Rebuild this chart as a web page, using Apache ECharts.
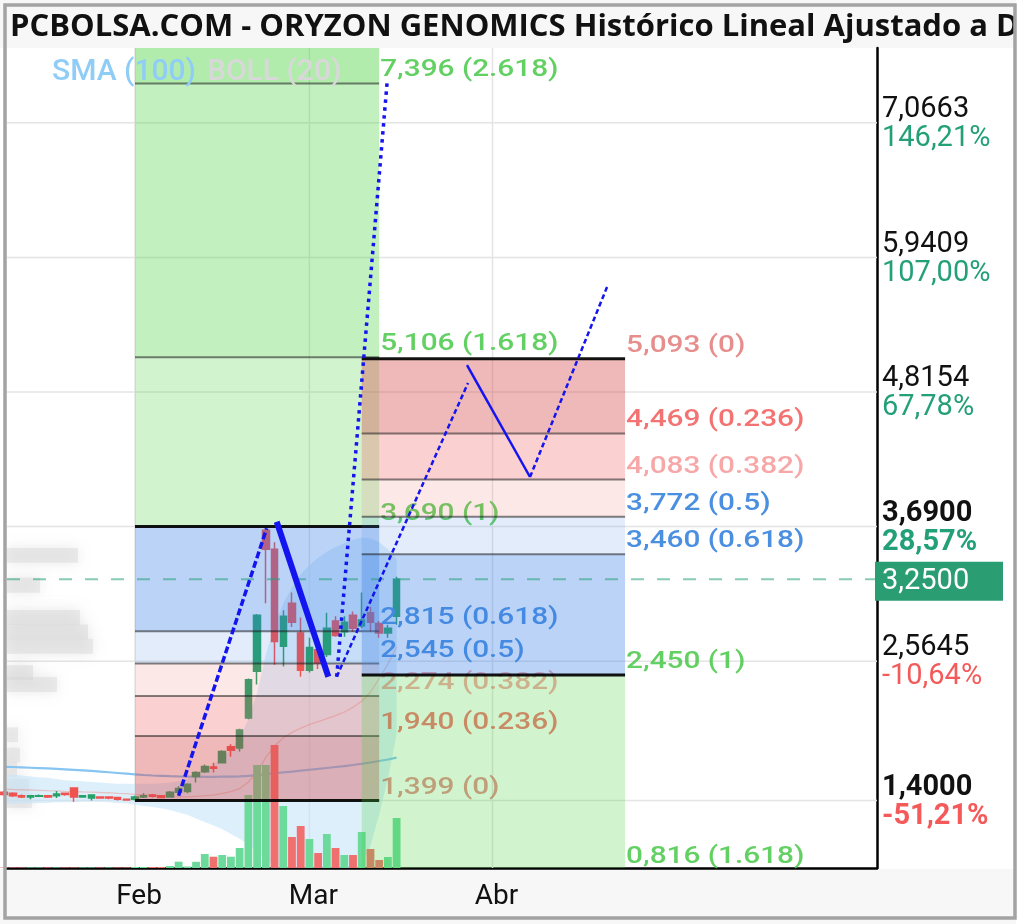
<!DOCTYPE html>
<html>
<head>
<meta charset="utf-8">
<script src="https://cdn.jsdelivr.net/npm/echarts@6.0.0/dist/echarts.min.js"></script>
<style>
html,body{margin:0;padding:0;background:#fff;}
#chart{width:1020px;height:924px;}
</style>
</head>
<body>
<div id="chart"></div>
<script>
// ---------------- DATA ----------------
const title = 'PCBOLSA.COM - ORYZON GENOMICS Histórico Lineal Ajustado a Dividendos';
const dates = [
 '2025-01-13','2025-01-14','2025-01-15','2025-01-16','2025-01-17',
 '2025-01-20','2025-01-21','2025-01-22','2025-01-23','2025-01-24',
 '2025-01-27','2025-01-28','2025-01-29','2025-01-30','2025-01-31',
 '2025-02-03','2025-02-04','2025-02-05','2025-02-06','2025-02-07',
 '2025-02-10','2025-02-11','2025-02-12','2025-02-13','2025-02-14',
 '2025-02-17','2025-02-18','2025-02-19','2025-02-20','2025-02-21',
 '2025-02-24','2025-02-25','2025-02-26','2025-02-27','2025-02-28',
 '2025-03-03','2025-03-04','2025-03-05','2025-03-06','2025-03-07',
 '2025-03-10','2025-03-11','2025-03-12','2025-03-13','2025-03-14',
 '2025-03-17'];
const opens = [1.47,1.46,1.44,1.43,1.435, 1.44,1.44,1.46,1.505,1.43, 1.42,1.43,1.43,1.425,1.41,
 1.41,1.43,1.445,1.44,1.43, 1.47,1.475,1.60,1.64,1.68, 1.715,1.85,1.84,2.09,2.48,
 3.66,3.50,2.69,3.05,2.80, 2.49,2.66,2.62,2.90,2.81, 2.95,2.86,2.97,2.88,2.80, 2.94];
const closes = [1.45,1.44,1.43,1.44,1.44, 1.43,1.455,1.45,1.43,1.44, 1.445,1.42,1.42,1.41,1.405,
 1.43,1.44,1.435,1.425,1.47, 1.50,1.535,1.635,1.685,1.67, 1.81,1.82,1.99,2.41,2.95,
 3.50,2.73,2.94,2.89,2.49, 2.68,2.55,2.84,2.78,2.89, 2.84,2.91,2.89,2.80,2.84, 3.25];
const lows = [1.44,1.43,1.42,1.41,1.43, 1.42,1.42,1.44,1.39,1.425, 1.40,1.415,1.41,1.40,1.40,
 1.399,1.42,1.425,1.42,1.425, 1.46,1.46,1.55,1.63,1.635, 1.71,1.765,1.81,2.08,2.37,
 3.05,2.535,2.52,2.85,2.435, 2.47,2.50,2.60,2.77,2.77, 2.81,2.84,2.81,2.76,2.76, 2.87];
const highs = [1.48,1.47,1.45,1.445,1.45, 1.445,1.48,1.465,1.51,1.445, 1.45,1.435,1.435,1.43,1.415,
 1.44,1.46,1.455,1.445,1.48, 1.52,1.545,1.645,1.70,1.715, 1.82,1.87,2.00,2.42,2.96,
 3.69,3.56,2.99,3.14,2.93, 2.76,2.70,2.97,2.94,2.94, 2.98,3.14,3.02,2.90,2.87, 3.27];
const volumes = [0.05,0.05,0.05,0.05,0.05, 0.05,0.05,0.05,0.05,0.05, 0.05,0.05,0.05,0.05,0.05,
 0.1,0.1,0.1,0.1,0.2, 0.63,0.15,0.62,1.4,1.13, 1.3,1.13,2.0,7.3,10.3,
 10.3,12.3,6.2,3.1,4.2, 2.9,1.5,3.4,2.0,1.3, 1.3,3.6,1.9,0.8,1.1, 5.0];
const sma100 = [1.682,1.680,1.677,1.674,1.671, 1.668,1.664,1.660,1.656,1.652, 1.647,1.642,1.636,1.630,1.624,
 1.618,1.613,1.609,1.606,1.603, 1.601,1.600,1.599,1.598,1.598, 1.599,1.600,1.602,1.606,1.612,
 1.620,1.628,1.635,1.642,1.650, 1.657,1.664,1.672,1.680,1.688, 1.697,1.707,1.718,1.730,1.743, 1.758];
const bollUpper = [1.62,1.615,1.61,1.60,1.595, 1.59,1.58,1.57,1.565,1.56, 1.555,1.55,1.545,1.54,1.54,
 1.54,1.54,1.54,1.545,1.55, 1.56,1.58,1.62,1.66,1.70, 1.76,1.83,1.92,2.08,2.30,
 2.62,2.86,3.05,3.18,3.29, 3.37,3.43,3.48,3.52,3.55, 3.58,3.60,3.59,3.56,3.50, 3.42];
const bollLower = [1.37,1.37,1.375,1.375,1.38, 1.38,1.385,1.385,1.385,1.39, 1.39,1.39,1.385,1.38,1.375,
 1.365,1.355,1.345,1.335,1.32, 1.30,1.28,1.25,1.22,1.19, 1.16,1.12,1.08,1.03,0.97,
 0.90,0.85,0.80,0.76,0.72, 0.70,0.69,0.69,0.70,0.73, 0.78,0.86,1.02,1.28,1.58, 1.95];
const bollMid = [1.495,1.492,1.49,1.488,1.485, 1.482,1.48,1.477,1.475,1.472, 1.47,1.467,1.465,1.46,1.457,
 1.452,1.448,1.443,1.44,1.435, 1.43,1.43,1.435,1.44,1.445, 1.46,1.475,1.50,1.555,1.635,
 1.76,1.855,1.925,1.97,2.005, 2.035,2.06,2.085,2.11,2.14, 2.18,2.23,2.305,2.42,2.54, 2.685];

const monthLabels = ['Feb', 'Mar', 'Abr'];
const monthStartK = [0, 20, 41];           // weekday index (0 = 2025-02-03)

const tickValues = [7.0663, 5.9409, 4.8154, 3.69, 2.5645, 1.4];
const tickPct = ['146,21%', '107,00%', '67,78%', '28,57%', '-10,64%', '-51,21%'];
const tickBold = [false, false, false, true, false, true];
const lastPrice = 3.25;

const fibLeftRatios = [0, 0.236, 0.382, 0.5, 0.618, 1, 1.618, 2.618, 4.236];
const fibLeftPrices = [1.399, 1.940, 2.274, 2.545, 2.815, 3.690, 5.106, 7.396, 11.104];
const fibLeftSpan = [0, 28];
const fibRightRatios = [0, 0.236, 0.382, 0.5, 0.618, 1, 1.618];
const fibRightPrices = [5.093, 4.469, 4.083, 3.772, 3.460, 2.450, 0.816];
const fibRightSpan = [26, 56.2];

// volume-by-price (left, blurred)
const vpPrices = [3.45, 3.20, 2.93, 2.81, 2.69, 2.47, 2.37, 1.95, 1.78, 1.66, 1.52, 1.40];
const vpSizes  = [71, 33, 73, 81, 86, 26, 50, 11, 13, 10, 22, 25];

// trend drawings: [k1, p1, k2, p2, style]
const drawings = [
  [5.0, 1.44, 15.1, 3.676, 0],
  [16.25, 3.731, 22.17, 2.435, 1],
  [23.13, 2.435, 28.9, 7.396, 2],
  [23.13, 2.435, 38.19, 4.891, 3],
  [38.07, 5.041, 45.30, 4.105, 4],
  [45.30, 4.105, 54.13, 5.693, 3]
];

// ---------------- LAYOUT ----------------
const XMIN = -14.68, XMAX = 85.09, YMIN = 0.8356, YMAX = 7.692;
const K0 = 15;
const xs = dates.map((d, i) => i - K0);
const GREEN = '#26a269', RED = '#ef5350';
const VGREEN = '#6bda9a', VRED = '#f07070';

function zoneColor(r) {
  if (r < 0.236) return 'rgba(214,72,72,0.38)';
  if (r < 0.382) return 'rgba(240,100,100,0.30)';
  if (r < 0.5) return 'rgba(240,100,100,0.15)';
  if (r < 0.618) return 'rgba(60,130,230,0.15)';
  if (r < 1) return 'rgba(60,130,230,0.35)';
  if (r < 1.618) return 'rgba(70,210,60,0.25)';
  if (r < 2.618) return 'rgba(70,210,60,0.33)';
  return 'rgba(70,210,60,0.42)';
}
function labelColor(r) {
  if (r === 0) return 'rgba(214,72,72,0.62)';
  if (r === 0.236) return 'rgba(240,80,80,0.8)';
  if (r === 0.382) return 'rgba(240,80,80,0.5)';
  if (r === 0.5 || r === 0.618) return '#4a8fe0';
  return 'rgba(70,200,70,0.85)';
}
function fmt(v, d) { return v.toFixed(d).replace('.', ','); }

function fibSeries(ratios, prices, span, z) {
  const zones = [], lines = [], labels = [];
  for (let j = 0; j < ratios.length - 1; j++) {
    zones.push([span[0], span[1], prices[j], prices[j + 1], Math.min(ratios[j], ratios[j + 1])]);
  }
  ratios.forEach((r, j) => {
    lines.push([span[0], span[1], prices[j], r]);
    labels.push([span[1], prices[j], r]);
  });
  return [
    {type: 'custom', z: z, xAxisIndex: 0, yAxisIndex: 0, clip: true, data: zones,
     renderItem: (params, api) => {
       const cs = params.coordSys;
       const p1 = api.value(2), p2 = api.value(3);
       const a = api.coord([api.value(0), Math.max(p1, p2)]);
       const b = api.coord([api.value(1), Math.min(p1, p2)]);
       const rect = echarts.graphic.clipRectByRect(
         {x: a[0], y: a[1], width: b[0] - a[0], height: b[1] - a[1]},
         {x: cs.x, y: cs.y, width: cs.width, height: cs.height});
       return rect ? {type: 'rect', shape: rect, style: {fill: zoneColor(api.value(4))}} : null;
     }},
    {type: 'custom', z: z, xAxisIndex: 0, yAxisIndex: 0, clip: true, data: lines,
     renderItem: (params, api) => {
       const r = api.value(3);
       const a = api.coord([api.value(0), api.value(2)]);
       const b = api.coord([api.value(1), api.value(2)]);
       const strong = (r === 0 || r === 1);
       return {type: 'line', shape: {x1: a[0], y1: a[1], x2: b[0], y2: b[1]},
               style: {stroke: strong ? 'rgba(0,0,0,0.92)' : 'rgba(30,30,30,0.55)', lineWidth: strong ? 3 : 2}};
     }},
    {type: 'custom', z: z, xAxisIndex: 0, yAxisIndex: 0, clip: false, data: labels,
     renderItem: (params, api) => {
       const p = api.value(1), r = api.value(2);
       if (p > YMAX) return null;
       const pt = api.coord([api.value(0), p]);
       return {type: 'text', x: pt[0] + 1, y: pt[1] - 1, scaleX: 1.24,
               style: {text: fmt(p, 3) + ' (' + r + ')', fill: labelColor(r),
                       font: '500 24px Roboto', textAlign: 'left', align: 'left',
                       textVerticalAlign: 'bottom', verticalAlign: 'bottom'}};
     }}
  ];
}

const dashStyles = [
  {lineWidth: 3.5, lineDash: [7, 3]},
  {lineWidth: 6, lineDash: null},
  {lineWidth: 3.5, lineDash: [3.5, 4.5]},
  {lineWidth: 2.5, lineDash: [5, 3]},
  {lineWidth: 2.5, lineDash: null}
];

const chart = echarts.init(document.getElementById('chart'), null, {renderer: 'canvas', width: 1020, height: 924});

const option = {
  animation: false,
  backgroundColor: '#ffffff',
  grid: [
    {left: 7, right: 143, top: 48, bottom: 56},
    {left: 7, right: 143, top: 663, bottom: 56}
  ],
  xAxis: [
    {type: 'value', gridIndex: 0, min: XMIN, max: XMAX,
     axisLine: {show: true, onZero: false, lineStyle: {color: '#000', width: 2.5}},
     axisTick: {show: false}, axisLabel: {show: false}, splitLine: {show: false}},
    {type: 'value', gridIndex: 1, min: XMIN, max: XMAX, show: false},
    {type: 'value', gridIndex: 0, min: 0, max: 870, show: false}
  ],
  yAxis: [
    {type: 'value', gridIndex: 0, min: YMIN, max: YMAX, position: 'right',
     axisLine: {show: true, onZero: false, lineStyle: {color: '#000', width: 2.5}},
     axisTick: {show: false}, axisLabel: {show: false}, splitLine: {show: false}},
    {type: 'value', gridIndex: 1, min: 0, max: 20.5, show: false}
  ],
  graphic: [
    {type: 'rect', z: -10, shape: {x: 0, y: 0, width: 1020, height: 48}, style: {fill: '#f7f7f7'}},
    {type: 'rect', z: -10, shape: {x: 0, y: 869, width: 1020, height: 55}, style: {fill: '#f7f7f7'}},
    {type: 'text', z: 50, x: 10, y: 27, style: {text: title, fill: '#111', font: 'bold 31px "Open Sans"', textVerticalAlign: 'middle', verticalAlign: 'middle'}},
    {type: 'text', z: 50, x: 52, y: 72, style: {text: 'SMA (100)', fill: '#8fcdf7', font: '500 30px Roboto', textVerticalAlign: 'middle', verticalAlign: 'middle'}},
    {type: 'text', z: 50, x: 207, y: 72, style: {text: 'BOLL (20)', fill: '#d8d8d8', font: '500 30px Roboto', textVerticalAlign: 'middle', verticalAlign: 'middle'}},
    {type: 'rect', z: 60, shape: {x: 1016, y: 0, width: 4, height: 924}, style: {fill: '#fff'}},
    {type: 'rect', z: 61, shape: {x: 5, y: 5, width: 1010, height: 913}, style: {fill: 'transparent', stroke: '#a3a3a3', lineWidth: 3.5}}
  ],
  series: [
    // grid lines
    {type: 'custom', z: 1, xAxisIndex: 0, yAxisIndex: 0, clip: true,
     data: tickValues.map(v => [XMIN, v]),
     renderItem: (params, api) => {
       const cs = params.coordSys;
       const y = api.coord([XMIN, api.value(1)])[1];
       return {type: 'line', shape: {x1: cs.x, y1: y, x2: cs.x + cs.width, y2: y},
               style: {stroke: '#e4e4e4', lineWidth: 1.5}};
     }},
    {type: 'custom', z: 1, xAxisIndex: 0, yAxisIndex: 0, clip: true,
     data: monthStartK.map(k => [k, YMIN]),
     renderItem: (params, api) => {
       const cs = params.coordSys;
       const x = api.coord([api.value(0), YMIN])[0];
       return {type: 'line', shape: {x1: x, y1: cs.y, x2: x, y2: cs.y + cs.height},
               style: {stroke: '#e4e4e4', lineWidth: 1.5}};
     }},
    // volume by price
    {type: 'custom', z: 1, xAxisIndex: 2, yAxisIndex: 0, clip: true,
     data: vpPrices.map((p, i) => [vpSizes[i], p]),
     renderItem: (params, api) => {
       const a = api.coord([0, api.value(1) + 0.062]);
       const b = api.coord([api.value(0), api.value(1) - 0.062]);
       return {type: 'rect', shape: {x: a[0], y: a[1], width: b[0] - a[0], height: b[1] - a[1]},
               style: {fill: 'rgba(215,215,215,0.45)', shadowBlur: 14, shadowColor: 'rgba(200,200,200,0.9)'}};
     }},
    // bollinger band fill
    {type: 'custom', z: 2, xAxisIndex: 0, yAxisIndex: 0, clip: true,
     data: [[0, 0]],
     renderItem: (params, api) => {
       const pts = [];
       xs.forEach((x, i) => pts.push(api.coord([x, bollUpper[i]])));
       for (let i = xs.length - 1; i >= 0; i--) pts.push(api.coord([xs[i], bollLower[i]]));
       return {type: 'polygon', shape: {points: pts}, style: {fill: 'rgba(200,228,250,0.6)'}};
     }},
    {type: 'line', z: 3, xAxisIndex: 0, yAxisIndex: 0, symbol: 'none',
     data: xs.map((x, i) => [x, sma100[i]]),
     lineStyle: {color: '#86c4f2', width: 2.2}},
    {type: 'line', z: 3, xAxisIndex: 0, yAxisIndex: 0, symbol: 'none',
     data: xs.map((x, i) => [x, bollMid[i]]),
     lineStyle: {color: 'rgba(235,120,100,0.35)', width: 1.3}},
    // volume
    {type: 'bar', z: 4, xAxisIndex: 1, yAxisIndex: 1, barWidth: 7.8,
     data: xs.map((x, i) => ({value: [x, volumes[i]],
       itemStyle: {color: closes[i] >= (i > 0 ? closes[i - 1] : opens[i]) ? VGREEN : VRED}}))},
    // candles
    {type: 'candlestick', z: 4, xAxisIndex: 0, yAxisIndex: 0, barWidth: 7,
     encode: {x: 0, y: [1, 2, 3, 4]},
     data: xs.map((x, i) => [x, opens[i], closes[i], lows[i], highs[i]]),
     itemStyle: {color: GREEN, color0: RED, borderColor: GREEN, borderColor0: RED, borderWidth: 1.5}},
    // fibonacci tools (left drawn first, right over it)
    ...fibSeries(fibLeftRatios, fibLeftPrices, fibLeftSpan, 5),
    ...fibSeries(fibRightRatios, fibRightPrices, fibRightSpan, 6),
    // current price dashed line
    {type: 'custom', z: 7, xAxisIndex: 0, yAxisIndex: 0, clip: true,
     data: [[XMIN, lastPrice]],
     renderItem: (params, api) => {
       const cs = params.coordSys;
       const y = api.coord([XMIN, api.value(1)])[1];
       return {type: 'line', shape: {x1: cs.x, y1: y, x2: cs.x + cs.width, y2: y},
               style: {stroke: 'rgba(38,160,120,0.55)', lineWidth: 2, lineDash: [13, 13]}};
     }},
    // trend drawings
    {type: 'custom', z: 8, xAxisIndex: 0, yAxisIndex: 0, clip: true,
     data: drawings,
     renderItem: (params, api) => {
       const a = api.coord([api.value(0), api.value(1)]);
       const b = api.coord([api.value(2), api.value(3)]);
       const st = dashStyles[api.value(4)];
       return {type: 'line', shape: {x1: a[0], y1: a[1], x2: b[0], y2: b[1]},
               style: {stroke: '#1414f0', lineWidth: st.lineWidth, lineDash: st.lineDash, lineCap: 'butt'}};
     }},
    // right axis labels
    {type: 'custom', z: 9, xAxisIndex: 0, yAxisIndex: 0, clip: false,
     data: tickValues.map((v, i) => [XMAX, v, i]),
     renderItem: (params, api) => {
       const i = api.value(2);
       const pt = api.coord([XMAX, api.value(1)]);
       const w = tickBold[i] ? 'bold ' : '';
       const neg = tickPct[i].charAt(0) === '-';
       return {type: 'group', children: [
         {type: 'text', x: pt[0] + 5, y: pt[1] - 13,
          style: {text: fmt(api.value(1), 4), fill: '#111', font: w + '29px Roboto',
                  textVerticalAlign: 'middle', verticalAlign: 'middle'}},
         {type: 'text', x: pt[0] + 5, y: pt[1] + 16,
          style: {text: tickPct[i], fill: neg ? '#f45a5a' : '#24a078', font: w + '29px Roboto',
                  textVerticalAlign: 'middle', verticalAlign: 'middle'}}
       ]};
     }},
    // current price box
    {type: 'custom', z: 9, xAxisIndex: 0, yAxisIndex: 0, clip: false,
     data: [[XMAX, lastPrice]],
     renderItem: (params, api) => {
       const pt = api.coord([XMAX, api.value(1)]);
       return {type: 'group', children: [
         {type: 'rect', shape: {x: pt[0] - 2, y: pt[1] - 17.5, width: 128, height: 39}, style: {fill: '#2a9d73'}},
         {type: 'text', x: pt[0] + 5, y: pt[1] + 3,
          style: {text: fmt(api.value(1), 4), fill: '#fff', font: '29px Roboto',
                  textVerticalAlign: 'middle', verticalAlign: 'middle'}}
       ]};
     }},
    // month labels
    {type: 'custom', z: 9, xAxisIndex: 0, yAxisIndex: 0, clip: false,
     data: monthStartK.map((k, i) => [k, YMIN, i]),
     renderItem: (params, api) => {
       const pt = api.coord([api.value(0), YMIN]);
       return {type: 'text', x: pt[0] + 4, y: pt[1] + 29,
               style: {text: monthLabels[api.value(2)], fill: '#111', font: '28px Roboto',
                       textAlign: 'center', align: 'center', textVerticalAlign: 'middle', verticalAlign: 'middle'}};
     }}
  ]
};
chart.setOption(option);
</script>
</body>
</html>
